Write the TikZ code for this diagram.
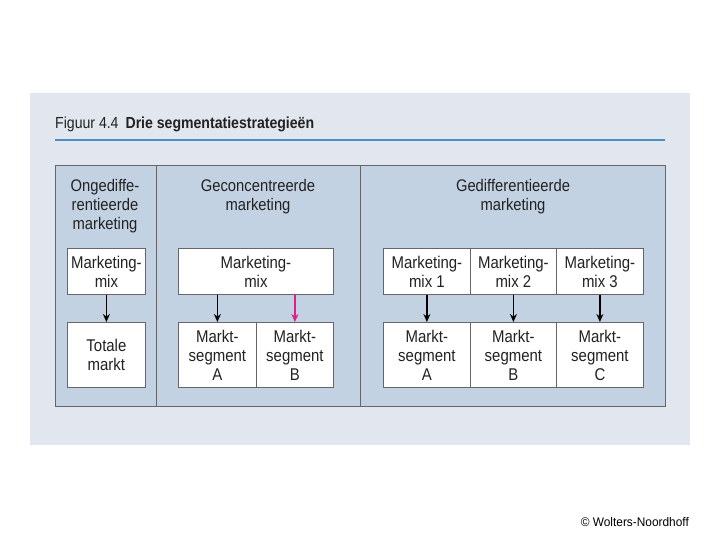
\documentclass[tikz,border=0pt]{standalone}
\usepackage{fontspec}
\setmainfont{Liberation Sans}[FakeStretch=0.88]
\newfontfamily\copyfont{Liberation Sans}[FakeStretch=0.95]
\usetikzlibrary{arrows.meta}
\definecolor{panel}{HTML}{E2E7EF}
\definecolor{inner}{HTML}{C2D2E2}
\definecolor{rule}{HTML}{4A90C0}
\definecolor{txt}{HTML}{222222}
\definecolor{edge}{HTML}{666666}
\definecolor{pinkarrow}{HTML}{E0208A}
\newcommand\toprl{\rule{0pt}{18.3pt}}
\tikzset{
  box/.style={draw=edge, line width=0.8pt, fill=white, anchor=north west, inner sep=0pt,
    align=center, text=txt, font=\fontsize{17}{19}\selectfont,
    execute at end node=\strut},
  head/.style={align=center, text=txt, font=\fontsize{16.8}{19}\selectfont, anchor=north},
  arr/.style={-{Stealth[length=8pt,width=7pt]}, line width=1.8pt, black},
}
\begin{document}
\begin{tikzpicture}[x=1pt,y=-1pt]
\useasboundingbox (0,0) rectangle (720,540);
\fill[white] (0,0) rectangle (720,540);
\fill[panel] (30,93) rectangle (690,445);
\node[anchor=base west, inner sep=0pt, text=txt, font=\fontsize{16}{18}\selectfont] (title) at (55,129)
  {Figuur 4.4\hspace{7pt}\textbf{Drie segmentatiestrategieën}};
\draw[rule, line width=1.2pt] (55,140) -- (665,140);
\draw[edge, fill=inner, line width=0.8pt] (55,165) rectangle (665,406);
\draw[edge, line width=0.8pt] (156,165) -- (156,406);
\draw[edge, line width=0.8pt] (360,165) -- (360,406);
% headers
\node[head] (h1) at (105,176) {Ongediffe-\\rentieerde\\marketing};
\node[head] (h2) at (258,176) {Geconcentreerde\\marketing};
\node[head] (h3) at (513,176) {Gedifferentieerde\\marketing};
% column 1
\node[box, minimum width=78pt, minimum height=46pt] (mm0) at (67,248) {\toprl Marketing-\\mix};
\node[box, minimum width=78pt, minimum height=65pt] (tm) at (67,322) {\toprl Totale\\markt};
% column 2
\node[box, minimum width=155pt, minimum height=46pt] (mmc) at (178,248) {\toprl Marketing-\\mix};
\node[box, minimum width=78pt, minimum height=65pt] (sa) at (178,322) {\toprl Markt-\\segment\\A};
\node[box, minimum width=77pt, minimum height=65pt] (sb) at (256,322) {\toprl Markt-\\segment\\B};
% column 3
\node[box, minimum width=87pt, minimum height=46pt] (m1) at (383,248) {\toprl Marketing-\\mix 1};
\node[box, minimum width=86pt, minimum height=46pt] (m2) at (470,248) {\toprl Marketing-\\mix 2};
\node[box, minimum width=87pt, minimum height=46pt] (m3) at (556,248) {\toprl Marketing-\\mix 3};
\node[box, minimum width=87pt, minimum height=65pt] (da) at (383,322) {\toprl Markt-\\segment\\A};
\node[box, minimum width=86pt, minimum height=65pt] (db) at (470,322) {\toprl Markt-\\segment\\B};
\node[box, minimum width=87pt, minimum height=65pt] (dc) at (556,322) {\toprl Markt-\\segment\\C};
% arrows
\draw[arr] (mm0.south) -- (tm.north);
\draw[arr] (mmc.south -| sa.north) -- (sa.north);
\draw[arr, pinkarrow] (mmc.south -| sb.north) -- (sb.north);
\draw[arr] (m1.south) -- (da.north);
\draw[arr] (m2.south) -- (db.north);
\draw[arr] (m3.south) -- (dc.north);
% copyright
\node[anchor=base east, inner sep=0pt, text=black, font=\copyfont\fontsize{12.5}{14}\selectfont] (copy) at (689,526) {© Wolters-Noordhoff};
\end{tikzpicture}
\end{document}
